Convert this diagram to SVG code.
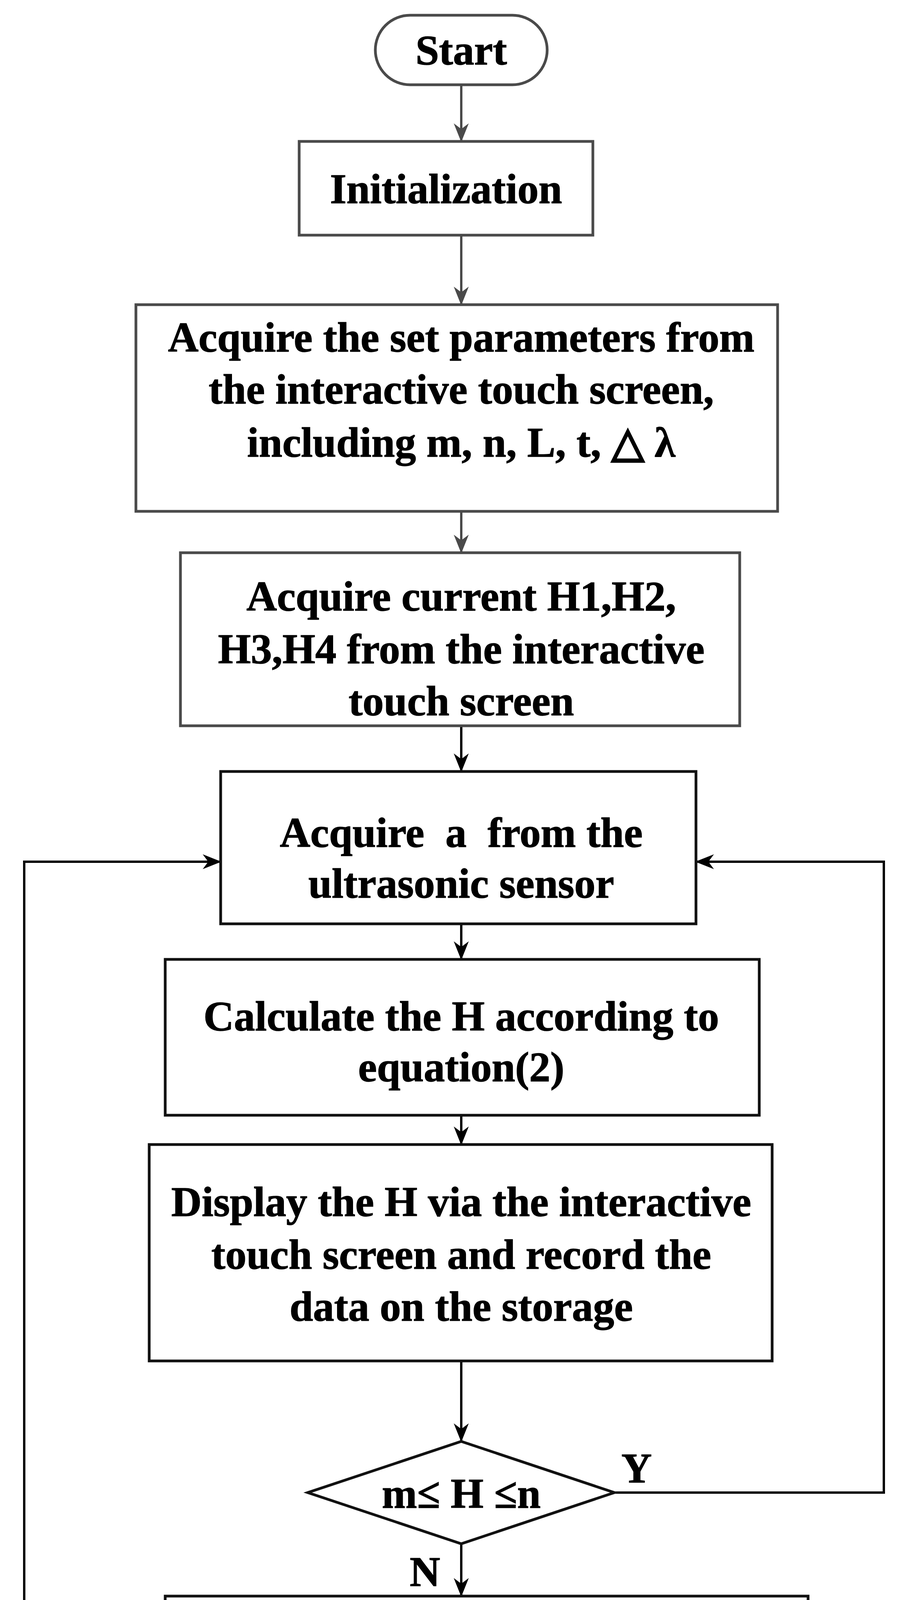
<svg xmlns="http://www.w3.org/2000/svg" width="2330" height="4363" viewBox="0 0 2330 4363">
<defs>
<marker id="ab" viewBox="0 0 10 10" markerWidth="48" markerHeight="48" refX="9" refY="5" orient="auto" markerUnits="userSpaceOnUse"><path d="M0,1 L10,5 L0,9 L3,5 Z" fill="#000"/></marker>
<marker id="ag2" viewBox="0 0 10 10" markerWidth="48" markerHeight="48" refX="9" refY="5" orient="auto" markerUnits="userSpaceOnUse"><path d="M0,1 L10,5 L0,9 L3,5 Z" fill="#4a4a4a"/></marker>
</defs>
<style>
.n{fill:#fff;stroke-width:7}
.g{stroke:#4a4a4a}
.k{stroke:#111}
text{font-family:"Liberation Serif","Times New Roman",serif;font-weight:bold;font-size:108px;text-anchor:middle;fill:#000;stroke:#000;stroke-width:1.5}
.cg{stroke:#4a4a4a;stroke-width:6;fill:none;marker-end:url(#ag2)}
.cb{stroke:#000;stroke-width:6;fill:none;marker-end:url(#ab)}
</style>
<rect width="2330" height="4363" fill="#fff"/>
<g id="connectors">
<line class="cg" x1="1181" y1="217" x2="1181" y2="359"/>
<line class="cg" x1="1181" y1="602" x2="1181" y2="777"/>
<line class="cg" x1="1181" y1="1309" x2="1181" y2="1412"/>
<line class="cb" x1="1181" y1="1858" x2="1181" y2="1972"/>
<line class="cb" x1="1181" y1="2365" x2="1181" y2="2453"/>
<line class="cb" x1="1181" y1="2855" x2="1181" y2="2927"/>
<line class="cb" x1="1181" y1="3484" x2="1181" y2="3687"/>
<line class="cb" x1="1181" y1="3952" x2="1181" y2="4083"/>
<polyline class="cb" points="1573,3821 2263,3821 2263,2206 1785,2206"/>
<polyline class="cb" points="423,4161 62,4161 62,2206 562,2206"/>
<text x="1630" y="3795">Y</text>
<text x="1088" y="4060">N</text>
</g>
<g id="start"><rect class="n g" x="961" y="39" width="440" height="178" rx="89"/><text x="1181" y="165">Start</text></g>
<g id="init"><rect class="n g" x="766" y="362" width="752" height="240"/><text x="1142" y="520">Initialization</text></g>
<g id="params"><rect class="n g" x="348" y="780" width="1643" height="529"/>
<text x="1181" y="900">Acquire the set parameters from</text>
<text x="1181" y="1033">the interactive touch screen,</text>
<text x="1181" y="1169">including m, n, L, t, △ λ</text></g>
<g id="hvals"><rect class="n g" x="462" y="1415" width="1432" height="443"/>
<text x="1181" y="1563">Acquire current H1,H2,</text>
<text x="1181" y="1698">H3,H4 from the interactive</text>
<text x="1181" y="1831">touch screen</text></g>
<g id="acq"><rect class="n k" x="565" y="1975" width="1217" height="390"/>
<text x="1181" y="2168" xml:space="preserve">Acquire  a  from the</text>
<text x="1181" y="2298">ultrasonic sensor</text></g>
<g id="calc"><rect class="n k" x="423" y="2456" width="1521" height="399"/>
<text x="1181" y="2638">Calculate the H according to</text>
<text x="1181" y="2768">equation(2)</text></g>
<g id="disp"><rect class="n k" x="382" y="2930" width="1595" height="554"/>
<text x="1181" y="3113">Display the H via the interactive</text>
<text x="1181" y="3248">touch screen and record the</text>
<text x="1181" y="3381">data on the storage</text></g>
<g id="dec"><polygon class="n k" points="1181,3690 1573,3821 1181,3952 788,3821"/>
<text x="1181" y="3860">m≤ H ≤n</text></g>
<g id="adj"><rect class="n k" x="423" y="4086" width="1646" height="150"/>
<text x="1246" y="4198">Adjust the H to be in the [m,n]</text></g>
</svg>
